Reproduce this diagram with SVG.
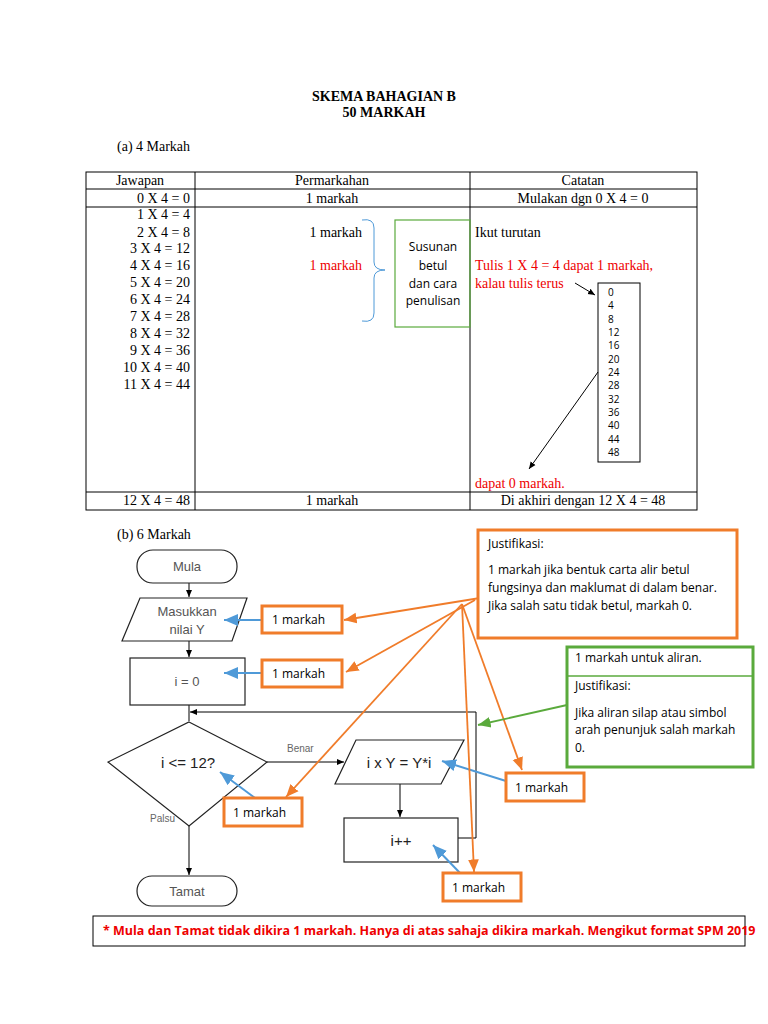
<svg xmlns="http://www.w3.org/2000/svg" width="768" height="1024" viewBox="0 0 768 1024">
<style>
.s{font-family:"Liberation Serif",serif;font-size:14px;fill:#000}
.r{fill:#e00}
.sa{font-family:"Open Sans","Noto Sans",sans-serif;font-size:11px;fill:#000}
.sb{font-family:"Open Sans","Noto Sans",sans-serif;font-size:12px;fill:#000}
.sn{font-family:"Open Sans","Noto Sans",sans-serif;font-size:10px;fill:#000}
.fc{font-family:"Liberation Sans",sans-serif;font-size:13px;fill:#555}
.fs{font-family:"Liberation Sans",sans-serif;font-size:10px;fill:#666}
.fb{font-family:"Liberation Sans",sans-serif;font-size:15px;fill:#222}
.ln{stroke:#000;stroke-width:1;fill:none}
.sh{stroke:#222;stroke-width:1.2;fill:#fff}
.ob{stroke:#f07c2a;stroke-width:3;fill:#fff}
.oa{stroke:#f07c2a;stroke-width:1.8;fill:none}
.ba{stroke:#4f9ad8;stroke-width:2;fill:none}
</style>
<defs>
<marker id="ak" markerWidth="8" markerHeight="8" refX="7" refY="4" orient="auto"><path d="M0,1L7,4L0,7z" fill="#000"/></marker>
<marker id="ao" markerWidth="8" markerHeight="8" refX="7" refY="4" orient="auto"><path d="M0,1L7,4L0,7z" fill="#f07c2a"/></marker>
<marker id="ab" markerWidth="8" markerHeight="8" refX="7" refY="4" orient="auto"><path d="M0,1L7,4L0,7z" fill="#4f9ad8"/></marker>
<marker id="ag" markerWidth="8" markerHeight="8" refX="7" refY="4" orient="auto"><path d="M0,1L7,4L0,7z" fill="#5aaa3c"/></marker>
</defs>
<rect width="768" height="1024" fill="#fff"/>
<text class="s" x="384" y="101" text-anchor="middle" font-weight="bold">SKEMA BAHAGIAN B</text>
<text class="s" x="384" y="117" text-anchor="middle" font-weight="bold">50 MARKAH</text>
<text class="s" x="117" y="151">(a)  4 Markah</text>
<g id="table">
<rect x="86" y="172" width="611" height="338" class="ln"/>
<path class="ln" d="M195,172V510M470,172V510M86,189H697M86,207H697M86,492H697"/>
<g class="s" text-anchor="middle"><text x="140" y="185">Jawapan</text><text x="332" y="185">Permarkahan</text><text x="583" y="185">Catatan</text>
<text x="332" y="203">1 markah</text><text x="583" y="203">Mulakan dgn 0 X 4 = 0</text>
<text x="332" y="505">1 markah</text><text x="583" y="505">Di akhiri dengan 12 X 4 = 48</text></g>
<g class="s" text-anchor="end"><text x="190" y="203">0 X 4 = 0</text><text x="190" y="219">1 X 4 = 4</text><text x="190" y="237">2 X 4 = 8</text><text x="190" y="253">3 X 4 = 12</text><text x="190" y="270">4 X 4 = 16</text><text x="190" y="287">5 X 4 = 20</text><text x="190" y="304">6 X 4 = 24</text><text x="190" y="321">7 X 4 = 28</text><text x="190" y="338">8 X 4 = 32</text><text x="190" y="355">9 X 4 = 36</text><text x="190" y="372">10 X 4 = 40</text><text x="190" y="389">11 X 4 = 44</text><text x="190" y="505">12 X 4 = 48</text>
<text x="362" y="237">1 markah</text><text x="362" y="270" class="s r">1  markah</text></g>
<path d="M362,220Q374,218 374,228V262Q374,270 385,270Q374,270 374,278V313Q374,323 362,321" stroke="#4f9ad8" fill="none"/>
<rect x="395" y="220" width="75" height="107" fill="none" stroke="#5aaa3c" stroke-width="1.2"/>
<g class="sb" text-anchor="middle"><text x="433" y="251">Susunan</text><text x="433" y="270">betul</text><text x="433" y="288">dan cara</text><text x="433" y="305">penulisan</text></g>
<text class="s" x="475" y="237">Ikut turutan</text>
<text class="s r" x="475" y="270">Tulis 1 X 4 = 4 dapat 1 markah,</text>
<text class="s r" x="475" y="288">kalau tulis terus</text>
<rect x="598" y="283" width="42" height="179" fill="none" stroke="#000"/>
<g class="sn"><text x="608" y="296">0</text><text x="608" y="309">4</text><text x="608" y="323">8</text><text x="608" y="336">12</text><text x="608" y="349">16</text><text x="608" y="363">20</text><text x="608" y="376">24</text><text x="608" y="389">28</text><text x="608" y="403">32</text><text x="608" y="416">36</text><text x="608" y="429">40</text><text x="608" y="443">44</text><text x="608" y="456">48</text></g>
<path class="ln" d="M575,283L595,295" marker-end="url(#ak)"/>
<path class="ln" d="M598,372L529,469" marker-end="url(#ak)"/>
<text class="s r" x="475" y="488">dapat 0 markah.</text>
</g>
<text class="s" x="117" y="539">(b)  6 Markah</text>
<g id="connectors">
<path class="ln" d="M189,583V597" marker-end="url(#ak)"/>
<path class="ln" d="M189,641V657" marker-end="url(#ak)"/>
<path class="ln" d="M189,705V721"/>
<path class="ln" d="M476,838V712H190" marker-end="url(#ak)"/>
<path class="ln" d="M458,838H476"/>
<path class="ln" d="M267,762H344" marker-end="url(#ak)"/>
<path class="ln" d="M400,784V817" marker-end="url(#ak)"/>
<path class="ln" d="M189,826V875" marker-end="url(#ak)"/>
</g>
<g id="mula"><rect x="137" y="550" width="100" height="33" rx="16" class="sh"/><text class="fc" x="187" y="571" text-anchor="middle">Mula</text></g>
<g id="input"><polygon points="140,598 247,598 232,641 122,641" class="sh"/><text class="fc" x="187" y="616" text-anchor="middle">Masukkan</text><text class="fc" x="187" y="634" text-anchor="middle">nilai Y</text></g>
<g id="init"><rect x="130" y="658" width="115" height="47" class="sh"/><text class="fc" x="187" y="686" text-anchor="middle">i = 0</text></g>
<g id="cond"><polygon points="189,722 267,762 189,826 108,762" class="sh"/><text class="fb" x="188" y="768" text-anchor="middle">i &lt;= 12?</text></g>
<text class="fs" x="287" y="752">Benar</text>
<text class="fs" x="150" y="822">Palsu</text>
<g id="calc"><polygon points="356,740 464,740 441,784 335,784" class="sh"/><text class="fb" x="399" y="768" text-anchor="middle">i x Y = Y*i</text></g>
<g id="inc"><rect x="344" y="818" width="114" height="44" class="sh"/><text class="fb" x="401" y="846" text-anchor="middle">i++</text></g>
<g id="tamat"><rect x="137" y="876" width="100" height="30" rx="15" class="sh"/><text class="fc" x="187" y="896" text-anchor="middle">Tamat</text></g>
<g id="annotations">
<path class="ba" d="M262,620H224" marker-end="url(#ab)"/>
<path class="ba" d="M262,673H224" marker-end="url(#ab)"/>
<path class="ba" d="M255,798L220,772" marker-end="url(#ab)"/>
<path class="ba" d="M506,781L442,761" marker-end="url(#ab)"/>
<path class="ba" d="M460,873L433,845" marker-end="url(#ab)"/>
<path class="oa" d="M480,598L344,620" marker-end="url(#ao)"/>
<path class="oa" d="M475,600L346,672" marker-end="url(#ao)"/>
<path class="oa" d="M462,604L286,797" marker-end="url(#ao)"/>
<path class="oa" d="M462,604L522,770" marker-end="url(#ao)"/>
<path class="oa" d="M462,604L474,872" marker-end="url(#ao)"/>
<path d="M567,705L478,725" stroke="#5aaa3c" stroke-width="1.8" fill="none" marker-end="url(#ag)"/>
<g id="m1"><rect x="262" y="606" width="80" height="27" class="ob"/><text class="sb" x="272" y="624">1 markah</text></g>
<g id="m2"><rect x="262" y="660" width="80" height="27" class="ob"/><text class="sb" x="272" y="678">1 markah</text></g>
<g id="m3"><rect x="224" y="798" width="78" height="28" class="ob"/><text class="sb" x="233" y="817">1 markah</text></g>
<g id="m4"><rect x="506" y="773" width="78" height="28" class="ob"/><text class="sb" x="515" y="792">1 markah</text></g>
<g id="m5"><rect x="443" y="873" width="78" height="28" class="ob"/><text class="sb" x="452" y="892">1 markah</text></g>
<g id="just1"><rect x="478" y="530" width="259" height="108" class="ob"/>
<g class="sb"><text x="488" y="548">Justifikasi:</text><text x="488" y="574">1 markah jika bentuk carta alir betul</text><text x="488" y="592">fungsinya dan maklumat di dalam benar.</text><text x="488" y="610">Jika salah satu tidak betul, markah 0.</text></g></g>
<g id="just2"><rect x="567" y="647" width="186" height="120" fill="#fff" stroke="#5aaa3c" stroke-width="3"/><path d="M567,676H753" stroke="#5aaa3c" stroke-width="1.5"/>
<g class="sb"><text x="575" y="662">1 markah untuk aliran.</text><text x="575" y="690">Justifikasi:</text><text x="575" y="717">Jika aliran silap atau simbol</text><text x="575" y="734">arah penunjuk salah markah</text><text x="575" y="752">0.</text></g></g>
</g>
<g id="note"><rect x="93" y="916" width="652" height="30" fill="#fff" stroke="#000"/><text x="103" y="935" style="font-family:'Open Sans','Noto Sans',sans-serif;font-size:12.5px;font-weight:bold;fill:#e00">* Mula dan Tamat tidak dikira 1 markah. Hanya di atas sahaja dikira markah. Mengikut format SPM 2019</text></g>
</svg>
